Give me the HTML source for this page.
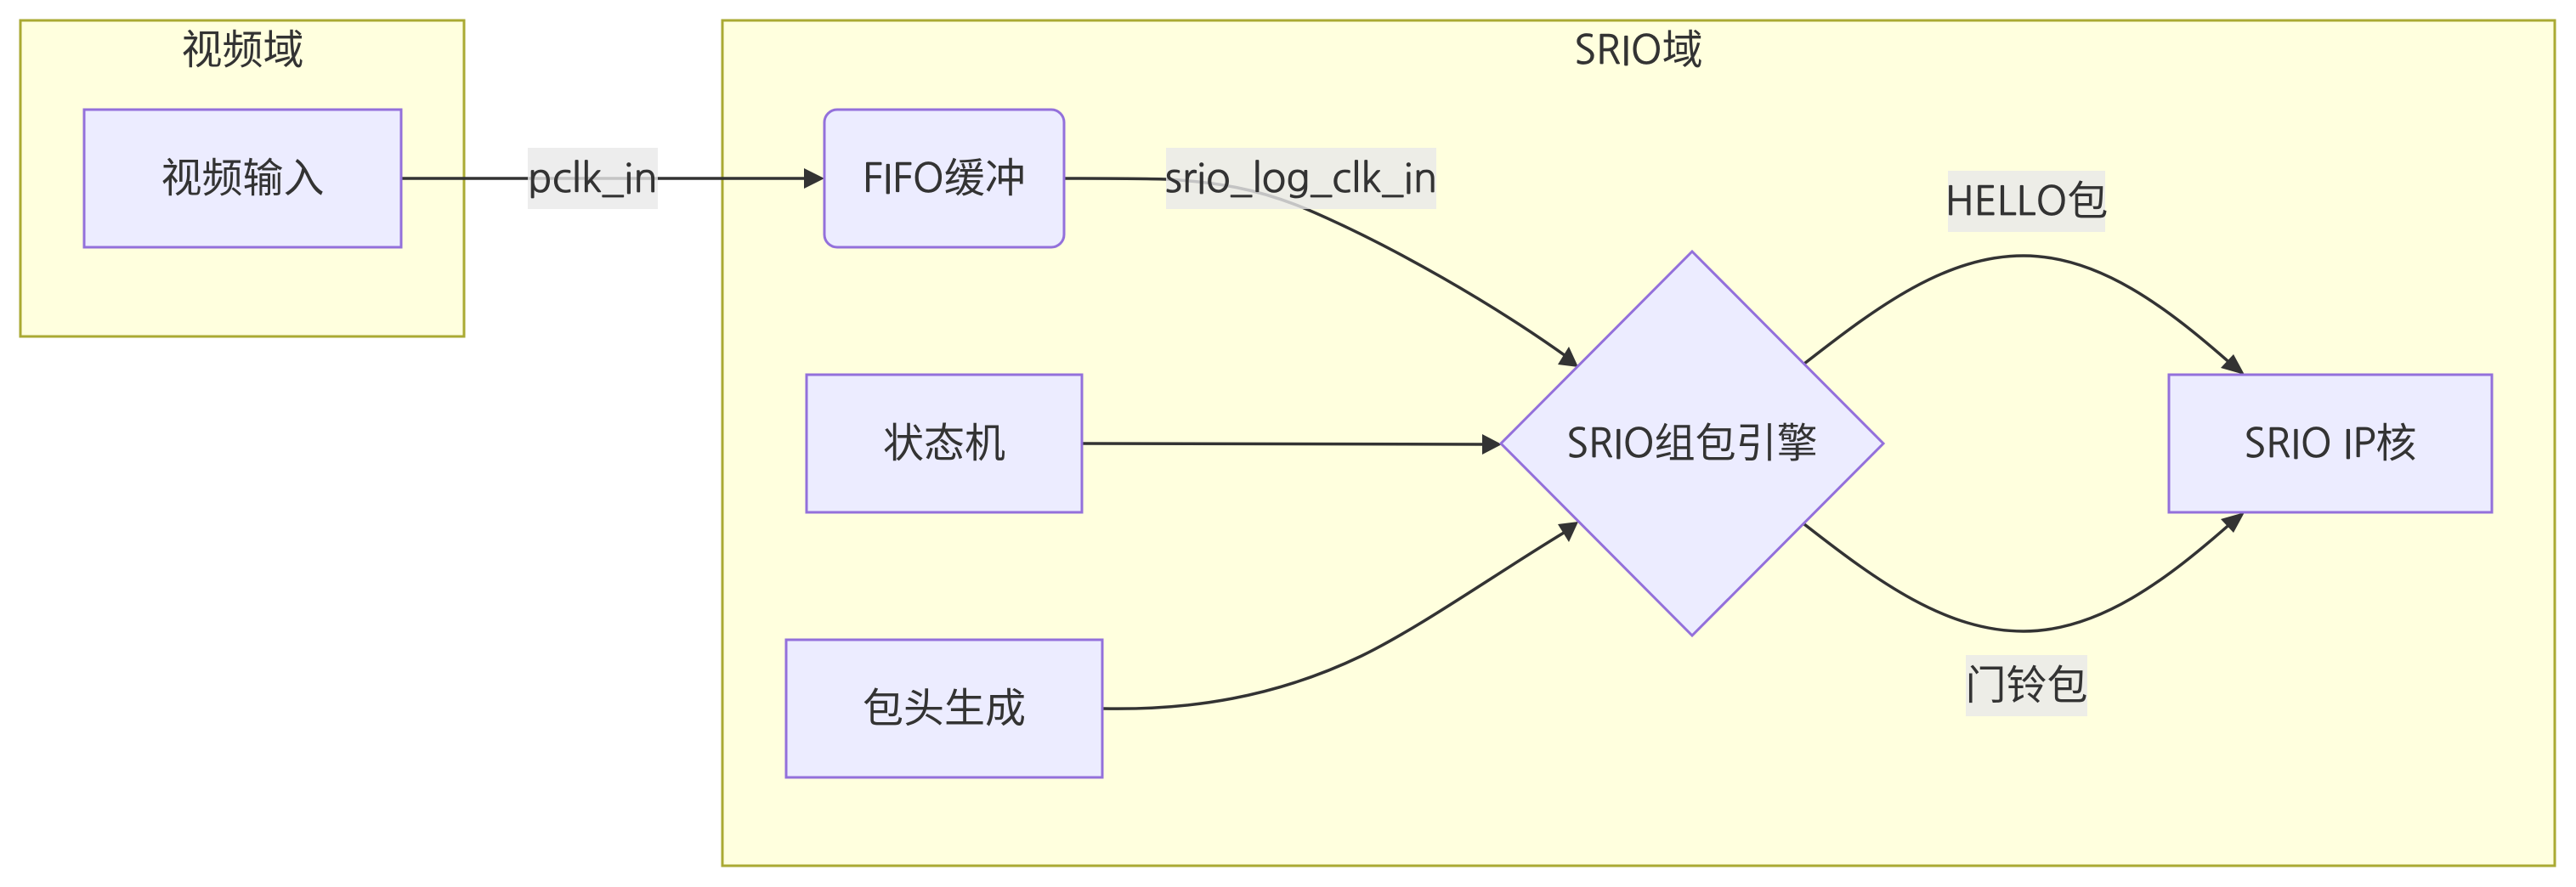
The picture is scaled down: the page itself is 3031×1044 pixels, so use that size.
<!DOCTYPE html>
<html lang="zh"><head><meta charset="utf-8"><title>SRIO</title>
<style>
html,body{margin:0;padding:0;background:#fff;width:3031px;height:1044px;overflow:hidden}
svg{display:block}
text{font-size:48px;fill:#333;text-anchor:middle;font-family:"NanumGothic","WenQuanYi Zen Hei",sans-serif}
tspan{stroke:#333;stroke-width:.7;font-size:47px}
.c{fill:#ffffde;stroke:#aaaa33;stroke-width:3}
.n{fill:#ececff;stroke:#9370db;stroke-width:3}
.e{fill:none;stroke:#333;stroke-width:3.5}
.a{fill:#333;stroke:none}
.l{fill:#e8e8e8;fill-opacity:.8;stroke:none}
</style></head><body>
<svg width="3031" height="1044" viewBox="0 0 3031 1044" xmlns="http://www.w3.org/2000/svg">
<rect class="c" x="24" y="24" width="522" height="372"/>
<rect class="c" x="850" y="24" width="2156" height="995"/>
<text x="285.500" y="75">视频域</text>
<text x="1928" y="75"><tspan>SRIO</tspan>域</text>

<path class="e" d="M472,210 L950,210"/>
<path class="e" d="M1253,210 C1300,210 1340,210 1372,211 C1430,214 1480,222 1537,246 C1640,290 1760,360 1845,421"/>
<path class="e" d="M1274,522 L1748,523"/>
<path class="e" d="M1298,834 C1400,836 1500,821 1602,772 C1672,738 1765,672 1845,624"/>
<path class="e" d="M2123,428 C2210,360 2290,301 2381,301 C2470,301 2550,362 2627,430"/>
<path class="e" d="M2123,617 C2210,685 2290,743 2381,743 C2470,743 2550,682 2627,614"/>

<polygon class="a" points="970,210 946,198 946,222"/>
<polygon class="a" points="1857,432 1846,408 1833,429"/>
<polygon class="a" points="1767,523 1744,511 1744,535"/>
<polygon class="a" points="1857,614 1846,638 1833,617"/>
<polygon class="a" points="2641,441 2628,417 2613,433"/>
<polygon class="a" points="2641,603 2628,627 2613,611"/>

<rect class="n" x="99" y="129" width="373" height="162"/>
<rect class="n" x="970" y="129" width="282" height="162" rx="15" ry="15"/>
<rect class="n" x="949" y="441" width="324" height="162"/>
<rect class="n" x="925" y="753" width="372" height="162"/>
<polygon class="n" points="1991,296 2216,522 1991,748 1766,522"/>
<rect class="n" x="2552" y="441" width="380" height="162"/>

<text x="285.500" y="226">视频输入</text>
<text x="1111" y="226"><tspan>FIFO</tspan>缓冲</text>
<text x="1111" y="538">状态机</text>
<text x="1111" y="850">包头生成</text>
<text x="1991" y="538"><tspan>SRIO</tspan>组包引擎</text>
<text x="2742" y="538"><tspan>SRIO IP</tspan>核</text>

<rect class="l" x="621" y="174" width="153" height="72"/>
<text x="697.500" y="226"><tspan>pclk_in</tspan></text>
<rect class="l" x="1372" y="174" width="318" height="72"/>
<text x="1531" y="226"><tspan>srio_log_clk_in</tspan></text>
<rect class="l" x="2292" y="201" width="185" height="72"/>
<text x="2384.500" y="253"><tspan>HELLO</tspan>包</text>
<rect class="l" x="2313" y="771" width="143" height="72"/>
<text x="2384.500" y="823">门铃包</text>
</svg>
</body></html>
